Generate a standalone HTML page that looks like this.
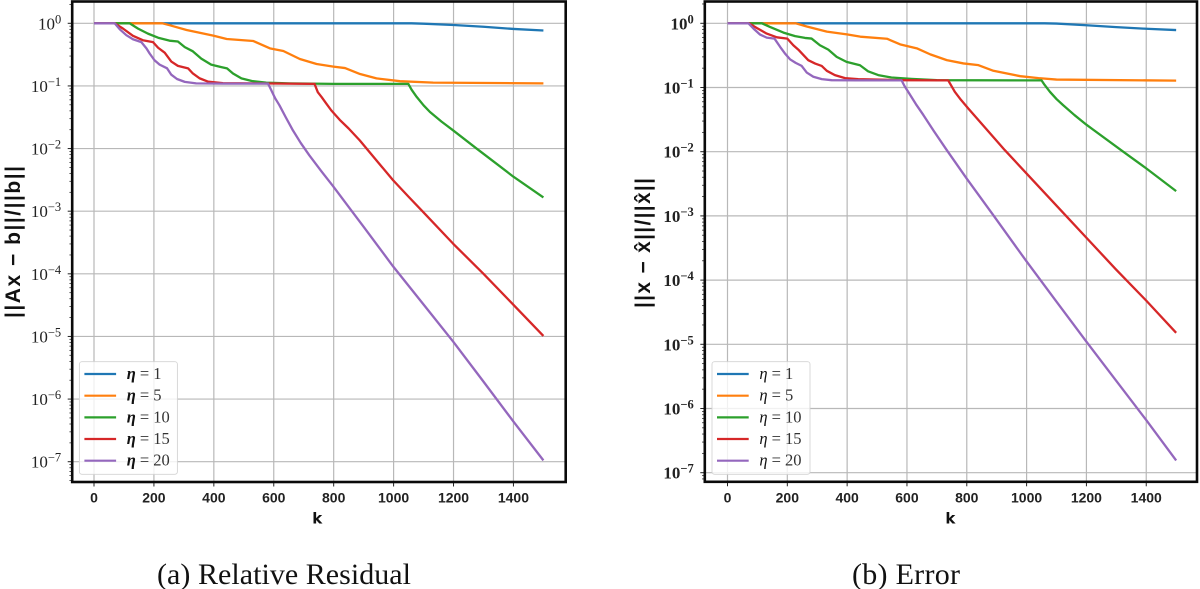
<!DOCTYPE html>
<html lang="en">
<head>
<meta charset="utf-8">
<title>Relative residual and error versus k</title>
<style>
  html, body { margin: 0; padding: 0; background: #fff; }
  #figure { display: block; width: 1200px; height: 589px; filter: blur(0.35px); }
</style>
</head>
<body>
<svg id="figure" xmlns="http://www.w3.org/2000/svg" width="1200" height="589" viewBox="0 0 1200 589">
  <g id="panel-a"></g>
  <g id="panel-b"></g>
  <text x="157" y="584" font-family="'Liberation Serif', serif" font-size="30" fill="#111" textLength="254">(a) Relative Residual</text>
  <text x="852" y="584" font-family="'Liberation Serif', serif" font-size="30" fill="#111" textLength="108">(b) Error</text>
</svg>
<script>
// ---- shared tick labels and legend data ----
const xTicks = [0, 200, 400, 600, 800, 1000, 1200, 1400];
const yTickExponents = [0, -1, -2, -3, -4, -5, -6, -7];
const etaLabels = ['1', '5', '10', '15', '20'];
const seriesNames = ['eta-1', 'eta-5', 'eta-10', 'eta-15', 'eta-20'];
const seriesColors = ['#1f77b4', '#ff7f0e', '#2ca02c', '#d62728', '#9467bd'];

// ---- panel (a): relative residual ----
const resK1 = [0, 1060, 1100, 1200, 1300, 1400, 1500];
const resV1 = [1, 1, 0.985, 0.94, 0.88, 0.813, 0.767];
const resK5 = [0, 228, 252, 309, 398, 443, 532, 587, 632, 687, 743, 799, 838, 888, 943, 1021, 1132, 1500];
const resV5 = [1, 1, 0.933, 0.782, 0.635, 0.562, 0.521, 0.398, 0.361, 0.269, 0.224, 0.203, 0.193, 0.155, 0.132, 0.119, 0.113, 0.110];
const resK10 = [0, 119, 147, 180, 214, 252, 280, 303, 330, 358, 391, 425, 444, 464, 492, 530, 575, 653, 800, 1049, 1060, 1077, 1100, 1121, 1160, 1199, 1277, 1340, 1400, 1500];
const resV10 = [1, 1, 0.822, 0.684, 0.589, 0.528, 0.513, 0.417, 0.357, 0.273, 0.219, 0.2, 0.191, 0.158, 0.132, 0.119, 0.113, 0.110, 0.108, 0.108, 0.0871, 0.0668, 0.049, 0.0385, 0.0269, 0.0195, 0.01, 0.00589, 0.00355, 0.00166];
const resK15 = [0, 69, 97, 130, 163, 197, 214, 236, 258, 280, 314, 330, 353, 381, 430, 542, 736, 747, 760, 775, 792, 820, 850, 887, 950, 998, 1050, 1104, 1199, 1300, 1400, 1500];
const resV15 = [1, 1, 0.822, 0.631, 0.537, 0.501, 0.407, 0.339, 0.245, 0.209, 0.191, 0.158, 0.132, 0.117, 0.111, 0.110, 0.108, 0.0794, 0.0661, 0.0525, 0.0407, 0.0288, 0.0209, 0.0135, 0.00589, 0.00313, 0.0017, 0.000912, 0.000302, 0.0001, 0.000032, 0.0000102];
const resK20 = [0, 69, 86, 108, 130, 158, 175, 186, 202, 219, 244, 258, 277, 303, 341, 430, 581, 590, 605, 619, 640, 664, 690, 719, 760, 798, 850, 900, 950, 998, 1100, 1200, 1300, 1400, 1500];
const resV20 = [1, 1, 0.802, 0.646, 0.556, 0.501, 0.398, 0.328, 0.257, 0.219, 0.191, 0.151, 0.129, 0.116, 0.110, 0.109, 0.109, 0.0891, 0.0631, 0.049, 0.0316, 0.0195, 0.0123, 0.00776, 0.00427, 0.00251, 0.00117, 0.000562, 0.000269, 0.000132, 0.0000324, 0.00000813, 0.0000019, 0.000000437, 0.000000105];

// ---- panel (b): error ----
const errK1 = [0, 1060, 1100, 1200, 1300, 1400, 1500];
const errV1 = [1, 1, 0.99, 0.933, 0.871, 0.822, 0.785];
const errK5 = [0, 228, 265, 332, 399, 444, 533, 577, 633, 678, 733, 789, 839, 889, 979, 1040, 1100, 1500];
const errV5 = [1, 1, 0.891, 0.741, 0.673, 0.619, 0.575, 0.470, 0.407, 0.328, 0.267, 0.237, 0.223, 0.182, 0.150, 0.140, 0.133, 0.128];
const errK10 = [0, 115, 142, 187, 226, 259, 281, 309, 337, 365, 398, 443, 470, 504, 548, 615, 700, 1050, 1060, 1078, 1100, 1122, 1160, 1200, 1323, 1400, 1500];
const errV10 = [1, 1, 0.877, 0.716, 0.631, 0.592, 0.578, 0.455, 0.389, 0.300, 0.251, 0.222, 0.179, 0.156, 0.143, 0.136, 0.130, 0.129, 0.11, 0.0857, 0.0661, 0.0531, 0.0372, 0.0263, 0.01, 0.0055, 0.00243];
const errK15 = [0, 72, 98, 131, 165, 200, 220, 239, 270, 293, 315, 332, 359, 393, 437, 582, 738, 760, 780, 805, 860, 927, 1000, 1134, 1200, 1298, 1400, 1500];
const errV15 = [1, 1, 0.845, 0.692, 0.605, 0.578, 0.455, 0.38, 0.266, 0.236, 0.217, 0.182, 0.156, 0.140, 0.135, 0.130, 0.129, 0.0857, 0.0646, 0.0471, 0.024, 0.0106, 0.00457, 0.000977, 0.000457, 0.000148, 0.0000479, 0.0000151];
const errK20 = [0, 70, 87, 109, 131, 157, 176, 192, 209, 228, 248, 265, 287, 315, 348, 437, 582, 592, 604, 630, 655, 690, 733, 800, 889, 1000, 1100, 1200, 1300, 1400, 1500];
const errV20 = [1, 1, 0.826, 0.667, 0.598, 0.578, 0.429, 0.339, 0.275, 0.242, 0.217, 0.171, 0.147, 0.135, 0.130, 0.129, 0.129, 0.105, 0.0857, 0.055, 0.0372, 0.0209, 0.0106, 0.0038, 0.00102, 0.000195, 0.0000462, 0.000011, 0.00000269, 0.00000066, 0.000000155];

const NS = 'http://www.w3.org/2000/svg';

function make(parent, tag, attrs, text) {
  const el = document.createElementNS(NS, tag);
  for (const key in attrs) el.setAttribute(key, attrs[key]);
  if (text !== undefined) el.textContent = text;
  parent.appendChild(el);
  return el;
}

function drawPanel(root, cfg) {
  const xPos = k => cfg.x0 + cfg.xScale * k;
  const yPos = v => cfg.y0 - cfg.yScale * Math.log10(v);

  // grid
  xTicks.forEach(t => {
    const line = make(root, 'line', { x1: xPos(t), x2: xPos(t), y1: cfg.top, y2: cfg.bottom, stroke: '#b8b8b8', 'stroke-width': 1.2 });
    
    
  });
  yTickExponents.forEach(e => {
    const y = yPos(Math.pow(10, e));
    const line = make(root, 'line', { x1: cfg.left, x2: cfg.right, y1: y, y2: y, stroke: '#b8b8b8', 'stroke-width': 1.2 });
    
    
  });

  // series
  cfg.series.forEach((s, i) => {
    const pts = s.k.map((k, j) => xPos(k).toFixed(2) + ',' + yPos(s.v[j]).toFixed(2)).join(' ');
    const line = make(root, 'polyline', { points: pts, fill: 'none', stroke: seriesColors[i], 'stroke-width': 2.3, 'stroke-linejoin': 'round', 'stroke-linecap': 'butt' });
    
    
  });

  // minor y ticks
  for (let e = 0; e >= -8; e--) {
    for (let m = 2; m <= 9; m++) {
      const y = yPos(m * Math.pow(10, e));
      if (y > cfg.top && y < cfg.bottom) {
        const minor = make(root, 'line', { x1: cfg.left - 2.8, x2: cfg.left, y1: y, y2: y, stroke: '#333', 'stroke-width': 0.8 });
        
        
      }
    }
  }

  // y ticks and labels
  yTickExponents.forEach(e => {
    const y = yPos(Math.pow(10, e));
    const tick = make(root, 'line', { x1: cfg.left - 4.5, x2: cfg.left, y1: y, y2: y, stroke: '#222', 'stroke-width': 1 });
    
    
    const label = make(root, 'text', { x: cfg.left - 11, y: y + 6, 'text-anchor': 'end', 'font-family': "'Liberation Serif', serif", 'font-size': 17, 'font-weight': cfg.labelWeight, fill: '#222' });
    
    
    make(label, 'tspan', {}, '10');
    make(label, 'tspan', { dy: -6, 'font-size': 12.5 }, e === 0 ? '0' : '\u2212' + Math.abs(e));
  });

  // x ticks and labels
  xTicks.forEach(t => {
    const tick = make(root, 'line', { x1: xPos(t), x2: xPos(t), y1: cfg.bottom, y2: cfg.bottom + 4.5, stroke: '#222', 'stroke-width': 1 });
    
    
    const label = make(root, 'text', { x: xPos(t), y: 502.5, 'text-anchor': 'middle', 'font-family': "'Liberation Sans', sans-serif", 'font-size': 14, 'font-weight': 700, fill: '#222' }, String(t));
    
    
  });

  // axis titles
  const xTitle = make(root, 'text', { x: xPos(0) + cfg.xScale * 745, y: 523.5, 'text-anchor': 'middle', 'font-family': "'DejaVu Sans', sans-serif", 'font-size': 15, 'font-weight': 700, fill: '#111' }, 'k');
  
  
  const yTitle = make(root, 'text', {
    x: 0, y: 0, 'text-anchor': 'middle', transform: 'translate(' + cfg.yTitleX + ' ' + cfg.yTitleY + ') rotate(-90)',
    'font-family': "'Liberation Sans', sans-serif", 'font-size': 21, 'font-weight': 700, fill: '#111', textLength: cfg.yTitleLen
  }, cfg.yTitle);
  
  

  // legend
  const lx = cfg.left + 7.2;
  const legend = make(root, 'g', {});
  
  
  make(legend, 'rect', { x: lx, y: 361.7, width: 98, height: 112.6, rx: 2.5, fill: '#fff', 'fill-opacity': 0.8, stroke: '#d4d4d4', 'stroke-width': 0.9 });
  etaLabels.forEach((lab, i) => {
    const y = 374 + i * 21.67;
    const key = make(legend, 'line', { x1: lx + 5, x2: lx + 36.7, y1: y, y2: y, stroke: seriesColors[i], 'stroke-width': 2.2 });
    
    
    const t = make(legend, 'text', { x: lx + 47.4, y: y + 5, 'font-family': "'Liberation Serif', serif", 'font-size': 16.5, fill: '#333' });
    
    
    make(t, 'tspan', { 'font-style': 'italic', 'font-weight': cfg.etaWeight, fill: '#111' }, '\u03B7');
    make(t, 'tspan', { dx: 4 }, '= ' + lab);
  });

  // spines
  const spines = make(root, 'rect', { x: cfg.left, y: cfg.top, width: cfg.right - cfg.left, height: cfg.bottom - cfg.top, fill: 'none', stroke: '#0a0a0a', 'stroke-width': 2.6 });
  
  
}

drawPanel(document.getElementById('panel-a'), {
  left: 72.2, right: 565.7, top: 1.5, bottom: 482,
  x0: 94, xScale: 0.2996, y0: 23.3, yScale: 62.63,
  labelWeight: 400, etaWeight: 700,
  yTitle: '||Ax \u2212 b||/||b||', yTitleX: 20, yTitleY: 242, yTitleLen: 152,
  series: [
    { k: resK1, v: resV1 }, { k: resK5, v: resV5 }, { k: resK10, v: resV10 }, { k: resK15, v: resV15 }, { k: resK20, v: resV20 }
  ]
});
drawPanel(document.getElementById('panel-b'), {
  left: 704.8, right: 1197, top: 1.5, bottom: 481.8,
  x0: 727.5, xScale: 0.2991, y0: 23.3, yScale: 64.2,
  labelWeight: 700, etaWeight: 400,
  yTitle: '||x \u2212 x\u0302||/||x\u0302||', yTitleX: 650, yTitleY: 243, yTitleLen: 130,
  series: [
    { k: errK1, v: errV1 }, { k: errK5, v: errV5 }, { k: errK10, v: errV10 }, { k: errK15, v: errV15 }, { k: errK20, v: errV20 }
  ]
});
</script>
</body>
</html>
